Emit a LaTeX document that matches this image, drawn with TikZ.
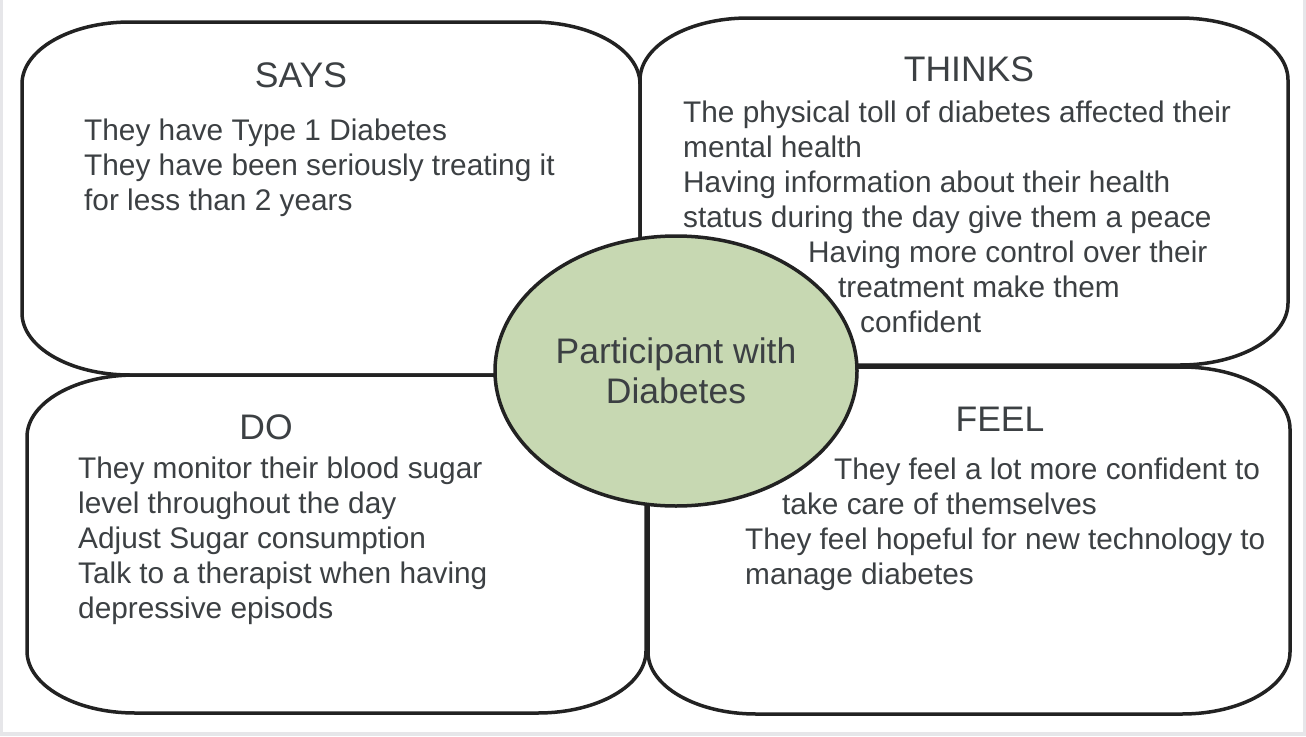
\documentclass[tikz,border=0pt]{standalone}
\usepackage{fontspec}
\setmainfont{Liberation Sans}
\usetikzlibrary{shapes.geometric}

\definecolor{inkgray}{HTML}{3C4043}
\definecolor{rimblack}{HTML}{222222}
\definecolor{hubgreen}{HTML}{C7D8B2}
\definecolor{framegray}{HTML}{E6E6E9}

\begin{document}
\begin{tikzpicture}[
  x=1pt, y=-1pt,
  quad/.style={draw=rimblack, line width=3.5pt},
  hub/.style={ellipse, draw=rimblack, line width=3.5pt, fill=hubgreen,
              minimum width=362pt, minimum height=270pt, inner sep=0pt,
              align=center, text=inkgray, font=\fontsize{35.5}{40}\selectfont},
  head/.style={anchor=base, inner sep=0pt, text=inkgray,
               font=\fontsize{35.5}{40}\selectfont},
  body/.style={anchor=north west, inner sep=0pt, align=left, text=inkgray,
               font=\fontsize{29.8}{35}\selectfont},
]
\useasboundingbox (0,0) rectangle (1306,736);
\fill[framegray] (0,0) rectangle (1306,736);
\fill[white] (3,0) rectangle (1303,732);

% the four quadrants
\foreach \xa/\ya/\xb/\yb in {22/22/640/375, 640/18/1288/365,
                             27/375/646/713, 648/367/1290/714}
  \draw[quad] (\xa,\yb-62) -- (\xa,\ya+62)
    arc[start angle=180, end angle=270, x radius=108, y radius=62]
    -- (\xb-108,\ya)
    arc[start angle=270, end angle=360, x radius=108, y radius=62]
    -- (\xb,\yb-62)
    arc[start angle=0, end angle=90, x radius=108, y radius=62]
    -- (\xa+108,\yb)
    arc[start angle=90, end angle=180, x radius=108, y radius=62] -- cycle;

\node[hub] (hub) at (676,371) {Participant with\\Diabetes};

\node[head] (saysHead) at (301,87.5) {SAYS};
\node[body] (saysText) at (84,118.5)
  {They have Type 1 Diabetes\\
   They have been seriously treating it\\
   for less than 2 years};

\node[head] (thinksHead) at (969,81.5) {THINKS};
\node[body] (thinksText) at (683,100.5)
  {The physical toll of diabetes affected their\\
   mental health\\
   Having information about their health\\
   status during the day give them a peace\\
   \hspace*{125pt}Having more control over their\\
   \hspace*{155pt}treatment make them\\
   \hspace*{177pt}confident};

\node[head] (doHead) at (266,439.5) {DO};
\node[body] (doText) at (78,456.5)
  {They monitor their blood sugar\\
   level throughout the day\\
   Adjust Sugar consumption\\
   Talk to a therapist when having\\
   depressive episods};

\node[head] (feelHead) at (1000,431.5) {FEEL};
\node[body] (feelText) at (745,457.5)
  {\hspace*{89pt}They feel a lot more confident to\\
   \hspace*{37pt}take care of themselves\\
   They feel hopeful for new technology to\\
   manage diabetes};

\end{tikzpicture}
\end{document}
